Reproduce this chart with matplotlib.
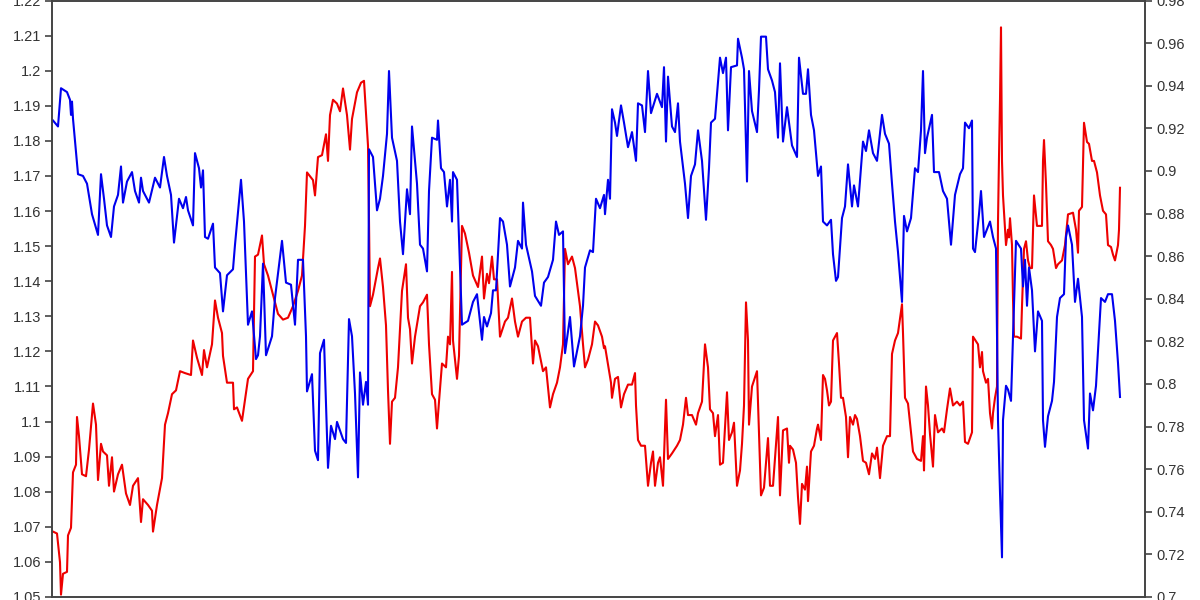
import numpy as np
import matplotlib
matplotlib.use("Agg")
import matplotlib.pyplot as plt
from matplotlib.ticker import FuncFormatter

plt.rcParams['font.family'] = ['Liberation Sans', 'DejaVu Sans']

# blue series (left axis), x = trading day index
blue_days = [1, 6, 9, 15, 18, 19, 20, 21, 26, 31, 35, 40, 46, 49, 52, 55, 59, 62, 66, 69,
             71, 75, 80, 83, 87, 89, 91, 97, 103, 108, 112, 115, 119, 122, 127, 131, 134, 136, 141, 143,
             147, 149, 151, 153, 156, 161, 163, 168, 171, 175, 181, 183, 189, 192, 196, 200, 204, 206, 208, 211,
             214, 220, 223, 230, 234, 239, 243, 246, 251, 254, 255, 260, 263, 266, 268, 272, 276, 279, 283, 285,
             291, 294, 297, 300, 303, 306, 308, 311, 314, 316, 317, 321, 325, 328, 331, 335, 337, 340, 345, 348,
             351, 355, 358, 360, 365, 368, 371, 375, 377, 380, 385, 386, 389, 392, 395, 398, 400, 401, 405, 407,
             410, 416, 421, 425, 430, 432, 435, 439, 441, 444, 448, 451, 455, 458, 463, 466, 470, 471, 474, 480,
             483, 489, 492, 496, 501, 504, 507, 511, 513, 518, 522, 528, 531, 533, 538, 541, 544, 548, 552, 553,
             556, 558, 560, 563, 565, 569, 572, 576, 580, 584, 586, 590, 593, 596, 599, 605, 610, 612, 614, 616,
             620, 623, 626, 628, 633, 636, 639, 643, 646, 650, 654, 657, 659, 663, 666, 668, 671, 674, 676, 679,
             685, 686, 690, 692, 695, 697, 700, 705, 707, 709, 714, 716, 720, 723, 726, 728, 731, 735, 737, 740,
             745, 747, 751, 754, 756, 759, 762, 766, 769, 771, 775, 779, 781, 784, 786, 790, 793, 796, 800, 802,
             806, 811, 814, 817, 821, 825, 830, 833, 837, 840, 843, 846, 850, 852, 855, 859, 863, 866, 869, 871,
             873, 875, 880, 882, 887, 891, 895, 899, 903, 908, 911, 913, 917, 920, 921, 923, 927, 929, 932, 938,
             941, 944, 946, 948, 950, 951, 954, 956, 959, 961, 964, 969, 971, 973, 975, 977, 980, 983, 986, 990,
             991, 993, 996, 1000, 1002, 1005, 1008, 1012, 1014, 1016, 1020, 1023, 1026, 1030, 1032, 1036, 1038, 1041, 1044, 1046,
             1049, 1053, 1056, 1060, 1063, 1066, 1068]
blue_vals = [1.1858, 1.1841, 1.1950, 1.1939, 1.1917, 1.1874, 1.1912, 1.1863, 1.1705, 1.1700,
             1.1678, 1.1591, 1.1532, 1.1705, 1.1635, 1.1559, 1.1526, 1.1613, 1.1646, 1.1727,
             1.1624, 1.1684, 1.1711, 1.1657, 1.1624, 1.1695, 1.1657, 1.1624, 1.1695, 1.1667,
             1.1754, 1.1700, 1.1646, 1.1510, 1.1635, 1.1608, 1.1640, 1.1602, 1.1559, 1.1765,
             1.1722, 1.1667, 1.1716, 1.1526, 1.1521, 1.1564, 1.1439, 1.1423, 1.1314, 1.1417,
             1.1434, 1.1504, 1.1689, 1.1570, 1.1276, 1.1314, 1.1178, 1.1189, 1.1243, 1.1450,
             1.1189, 1.1243, 1.1352, 1.1515, 1.1396, 1.1390, 1.1276, 1.1461, 1.1461, 1.1243,
             1.1086, 1.1135, 1.0917, 1.0890, 1.1195, 1.1233, 1.0868, 1.0988, 1.0950, 1.0999,
             1.0950, 1.0939, 1.1292, 1.1243, 1.1080, 1.0841, 1.1140, 1.1048, 1.1113, 1.1048,
             1.1776, 1.1754, 1.1602, 1.1635, 1.1700, 1.1820, 1.1999, 1.1809, 1.1743, 1.1570,
             1.1477, 1.1662, 1.1591, 1.1841, 1.1678, 1.1504, 1.1493, 1.1428, 1.1657, 1.1809,
             1.1803, 1.1858, 1.1722, 1.1711, 1.1613, 1.1689, 1.1570, 1.1711, 1.1689, 1.1526,
             1.1276, 1.1287, 1.1341, 1.1363, 1.1233, 1.1298, 1.1271, 1.1309, 1.1374, 1.1374,
             1.1580, 1.1570, 1.1504, 1.1385, 1.1439, 1.1515, 1.1493, 1.1624, 1.1504, 1.1428,
             1.1358, 1.1330, 1.1396, 1.1412, 1.1461, 1.1570, 1.1532, 1.1542, 1.1195, 1.1298,
             1.1157, 1.1243, 1.1330, 1.1439, 1.1488, 1.1483, 1.1635, 1.1608, 1.1646, 1.1591,
             1.1689, 1.1635, 1.1890, 1.1852, 1.1814, 1.1901, 1.1852, 1.1782, 1.1825, 1.1743,
             1.1907, 1.1901, 1.1825, 1.1999, 1.1879, 1.1934, 1.1896, 1.2010, 1.1798, 1.1983,
             1.1841, 1.1825, 1.1907, 1.1798, 1.1678, 1.1580, 1.1700, 1.1733, 1.1830, 1.1743,
             1.1575, 1.1722, 1.1852, 1.1863, 1.1966, 1.2037, 1.1993, 1.2037, 1.1830, 1.2010,
             1.2015, 1.2091, 1.2037, 1.2004, 1.1684, 1.1999, 1.1885, 1.1825, 1.1945, 1.2097,
             1.2097, 1.2004, 1.1972, 1.1939, 1.1809, 1.2021, 1.1798, 1.1896, 1.1852, 1.1787,
             1.1754, 1.2037, 1.1934, 1.1934, 1.2004, 1.1874, 1.1830, 1.1700, 1.1727, 1.1570,
             1.1559, 1.1575, 1.1477, 1.1401, 1.1412, 1.1580, 1.1613, 1.1733, 1.1613, 1.1673,
             1.1613, 1.1798, 1.1771, 1.1830, 1.1765, 1.1743, 1.1874, 1.1820, 1.1792, 1.1678,
             1.1570, 1.1483, 1.1341, 1.1586, 1.1542, 1.1580, 1.1722, 1.1711, 1.1830, 1.1999,
             1.1765, 1.1809, 1.1874, 1.1711, 1.1711, 1.1657, 1.1635, 1.1504, 1.1646, 1.1705,
             1.1722, 1.1852, 1.1836, 1.1858, 1.1493, 1.1483, 1.1591, 1.1657, 1.1526, 1.1570,
             1.1526, 1.1493, 1.1004, 1.0798, 1.0613, 1.1004, 1.1102, 1.1091, 1.1059, 1.1243,
             1.1515, 1.1493, 1.1385, 1.1461, 1.1330, 1.1439, 1.1374, 1.1200, 1.1314, 1.1287,
             1.1004, 1.0928, 1.1015, 1.1059, 1.1113, 1.1298, 1.1352, 1.1363, 1.1526, 1.1559,
             1.1504, 1.1341, 1.1407, 1.1298, 1.1004, 1.0923, 1.1080, 1.1032, 1.1102, 1.1200,
             1.1352, 1.1341, 1.1363, 1.1363, 1.1287, 1.1167, 1.1070]

# red series (right axis)
red_days = [1, 5, 8, 9, 11, 15, 16, 19, 21, 24, 25, 27, 30, 34, 37, 41, 44, 46, 49, 51,
            55, 57, 60, 62, 66, 70, 74, 78, 81, 86, 89, 91, 96, 100, 101, 105, 110, 113, 116, 120,
            124, 128, 133, 139, 141, 145, 150, 152, 155, 160, 163, 166, 170, 171, 175, 181, 182, 185, 190, 196,
            201, 203, 206, 210, 212, 216, 221, 226, 231, 236, 241, 246, 250, 253, 255, 258, 261, 263, 266, 270,
            274, 276, 278, 281, 285, 288, 291, 295, 298, 300, 305, 309, 312, 316, 317, 318, 321, 326, 328, 331,
            334, 336, 338, 340, 343, 346, 350, 354, 356, 358, 360, 363, 368, 371, 375, 377, 380, 383, 385, 387,
            390, 394, 396, 398, 400, 401, 405, 407, 410, 413, 417, 421, 426, 430, 432, 435, 437, 440, 442, 445,
            448, 453, 456, 460, 463, 466, 470, 474, 478, 481, 483, 486, 491, 494, 498, 501, 505, 508, 511, 513,
            516, 520, 523, 528, 531, 533, 536, 540, 543, 546, 550, 552, 553, 559, 560, 563, 566, 569, 572, 576,
            580, 583, 584, 586, 589, 593, 596, 599, 601, 603, 606, 608, 611, 614, 616, 620, 625, 628, 631, 634,
            636, 640, 644, 646, 650, 653, 656, 658, 661, 663, 666, 668, 671, 675, 677, 680, 682, 685, 688, 690,
            692, 694, 696, 697, 700, 705, 707, 709, 712, 716, 718, 721, 726, 728, 731, 735, 737, 738, 741, 744,
            746, 748, 750, 753, 755, 756, 759, 762, 765, 766, 769, 771, 773, 775, 777, 779, 781, 785, 787, 789,
            791, 794, 796, 798, 801, 803, 805, 808, 811, 814, 817, 820, 823, 825, 828, 831, 835, 838, 840, 843,
            846, 850, 851, 853, 856, 859, 861, 865, 869, 871, 872, 874, 876, 878, 881, 883, 886, 890, 892, 895,
            898, 901, 905, 908, 911, 913, 916, 920, 921, 926, 928, 930, 931, 934, 936, 938, 940, 941, 943, 945,
            946, 947, 948, 949, 950, 951, 954, 956, 957, 958, 960, 961, 962, 965, 969, 970, 972, 974, 976, 978,
            980, 982, 985, 990, 991, 992, 994, 996, 999, 1001, 1004, 1006, 1010, 1013, 1016, 1021, 1024, 1026, 1027, 1030,
            1031, 1032, 1035, 1037, 1040, 1042, 1045, 1048, 1051, 1054, 1056, 1059, 1061, 1063, 1066, 1067, 1068]
red_vals = [0.7307, 0.7298, 0.7163, 0.7011, 0.7109, 0.7118, 0.7289, 0.7325, 0.7585, 0.7621,
            0.7845, 0.7755, 0.7576, 0.7567, 0.7692, 0.7908, 0.7809, 0.7549, 0.7719, 0.7683,
            0.7665, 0.7522, 0.7656, 0.7495, 0.7576, 0.7621, 0.7486, 0.7432, 0.7522, 0.7558,
            0.7352, 0.7459, 0.7432, 0.7405, 0.7307, 0.7432, 0.7558, 0.7809, 0.7863, 0.7952,
            0.7970, 0.8060, 0.8051, 0.8042, 0.8204, 0.8123, 0.8042, 0.8159, 0.8078, 0.8186,
            0.8392, 0.8311, 0.8239, 0.8132, 0.8006, 0.8006, 0.7881, 0.7890, 0.7827, 0.8024,
            0.8060, 0.8598, 0.8607, 0.8697, 0.8562, 0.8509, 0.8419, 0.8329, 0.8302, 0.8311,
            0.8365, 0.8437, 0.8509, 0.8742, 0.8993, 0.8975, 0.8957, 0.8885, 0.9065, 0.9074,
            0.9172, 0.9047, 0.9262, 0.9334, 0.9316, 0.9280, 0.9387, 0.9262, 0.9100, 0.9244,
            0.9369, 0.9414, 0.9423, 0.9118, 0.8769, 0.8365, 0.8419, 0.8544, 0.8589, 0.8455,
            0.8275, 0.7970, 0.7719, 0.7917, 0.7935, 0.8078, 0.8437, 0.8562, 0.8311, 0.8257,
            0.8096, 0.8222, 0.8365, 0.8383, 0.8419, 0.8186, 0.7952, 0.7926, 0.7791, 0.7917,
            0.8096, 0.8078, 0.8222, 0.8186, 0.8526, 0.8204, 0.8024, 0.8132, 0.8742, 0.8706,
            0.8616, 0.8509, 0.8455, 0.8598, 0.8401, 0.8517, 0.8473, 0.8598, 0.8491, 0.8491,
            0.8222, 0.8293, 0.8311, 0.8401, 0.8293, 0.8222, 0.8293, 0.8311, 0.8311, 0.8096,
            0.8204, 0.8177, 0.8060, 0.8078, 0.7890, 0.7952, 0.8006, 0.8078, 0.8186, 0.8634,
            0.8562, 0.8598, 0.8544, 0.8365, 0.8186, 0.8078, 0.8114, 0.8186, 0.8293, 0.8275,
            0.8222, 0.8168, 0.8177, 0.8006, 0.7935, 0.8024, 0.8033, 0.7890, 0.7952, 0.7997,
            0.7997, 0.8051, 0.7899, 0.7737, 0.7710, 0.7710, 0.7522, 0.7630, 0.7683, 0.7522,
            0.7630, 0.7656, 0.7522, 0.7926, 0.7648, 0.7674, 0.7710, 0.7737, 0.7809, 0.7935,
            0.7854, 0.7854, 0.7809, 0.7863, 0.7917, 0.8186, 0.8078, 0.7881, 0.7863, 0.7755,
            0.7854, 0.7621, 0.7630, 0.7961, 0.7737, 0.7773, 0.7818, 0.7522, 0.7594, 0.7719,
            0.7899, 0.8383, 0.8204, 0.7809, 0.7988, 0.8060, 0.7773, 0.7477, 0.7513, 0.7746,
            0.7522, 0.7522, 0.7845, 0.7477, 0.7782, 0.7791, 0.7630, 0.7710, 0.7692, 0.7630,
            0.7468, 0.7343, 0.7531, 0.7504, 0.7612, 0.7450, 0.7683, 0.7710, 0.7791, 0.7809,
            0.7737, 0.8042, 0.8024, 0.7970, 0.7899, 0.7917, 0.8204, 0.8239, 0.8096, 0.7935,
            0.7935, 0.7845, 0.7656, 0.7845, 0.7809, 0.7854, 0.7836, 0.7755, 0.7639, 0.7630,
            0.7576, 0.7674, 0.7648, 0.7701, 0.7558, 0.7710, 0.7755, 0.7755, 0.8141, 0.8204,
            0.8239, 0.8374, 0.8239, 0.7935, 0.7908, 0.7773, 0.7683, 0.7648, 0.7639, 0.7755,
            0.7594, 0.7988, 0.7899, 0.7764, 0.7612, 0.7854, 0.7773, 0.7791, 0.7773, 0.7881,
            0.7979, 0.7899, 0.7917, 0.7899, 0.7917, 0.7728, 0.7719, 0.7773, 0.8222, 0.8186,
            0.8078, 0.8150, 0.8060, 0.8006, 0.8024, 0.7863, 0.7791, 0.7863, 0.7935, 0.7988,
            0.8760, 0.9065, 0.9334, 0.9674, 0.9047, 0.8885, 0.8652, 0.8724, 0.8688, 0.8778,
            0.8652, 0.8401, 0.8222, 0.8222, 0.8213, 0.8365, 0.8634, 0.8670, 0.8580, 0.8544,
            0.8544, 0.8885, 0.8742, 0.8742, 0.9047, 0.9145, 0.8939, 0.8670, 0.8652, 0.8634,
            0.8544, 0.8562, 0.8580, 0.8652, 0.8796, 0.8804, 0.8724, 0.8616, 0.8813, 0.8831,
            0.9029, 0.9226, 0.9136, 0.9127, 0.9047, 0.9047, 0.8993, 0.8885, 0.8813, 0.8796,
            0.8652, 0.8643, 0.8607, 0.8580, 0.8652, 0.8724, 0.8921]

left_ticks = np.round(np.arange(1.05, 1.2201, 0.01), 2)
right_ticks = np.round(np.arange(0.70, 0.9801, 0.02), 2)

fig = plt.figure(figsize=(12, 6), dpi=100)
ax = fig.add_axes([52 / 1200, 3 / 600, 1093 / 1200, 596.5 / 600])
ax2 = ax.twinx()

ax.plot(blue_days, blue_vals, color='#0000ee', linewidth=1.5)
ax2.plot(red_days, red_vals, color='#ee0000', linewidth=1.5)

# blue drawn over red
ax.set_zorder(ax2.get_zorder() + 1)
ax.patch.set_visible(False)

ax.set_xlim(0, 1093)
ax.set_ylim(1.05, 1.22)
ax2.set_ylim(0.70, 0.98)
ax.set_yticks(left_ticks)
ax2.set_yticks(right_ticks)

fmt = FuncFormatter(lambda v, p: f'{v:g}')
ax.yaxis.set_major_formatter(fmt)
ax2.yaxis.set_major_formatter(fmt)

ax.set_xticks([])
for a in (ax, ax2):
    a.tick_params(axis='y', length=5, width=1.2, color='#444444',
                  labelsize=10.5, labelcolor='#333333', pad=3)
    for s in a.spines.values():
        s.set_color('#444444')
        s.set_linewidth(1.2)

fig.savefig('out.png', dpi=100)
